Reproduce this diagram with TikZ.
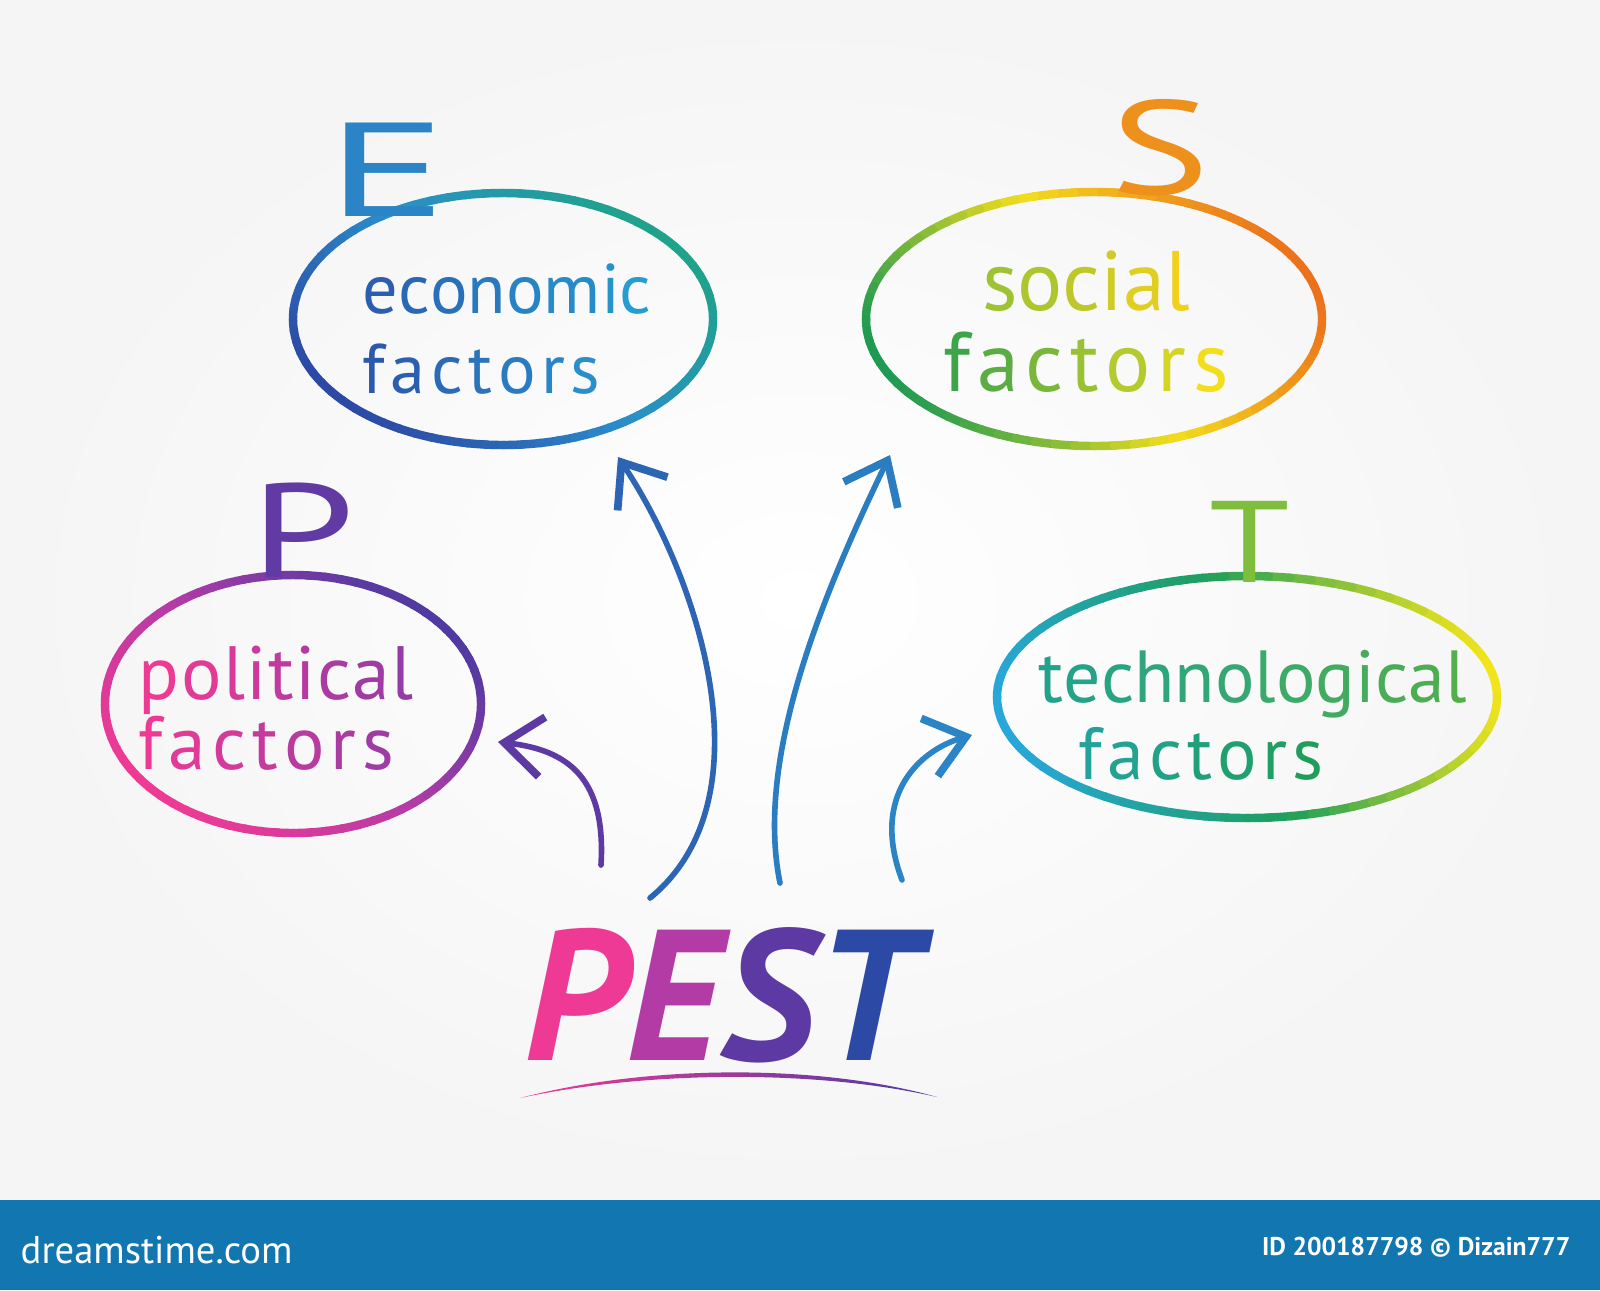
\documentclass[tikz,border=0pt]{standalone}
\usepackage{fontspec}
\setmainfont{PT Sans}
\usetikzlibrary{arrows.meta}

% colours of the rings
\definecolor{ecoDark}{HTML}{2C4AA5}
\definecolor{ecoMid}{HTML}{2A8ECB}
\definecolor{ecoLight}{HTML}{1FA38A}
\definecolor{socGreen}{HTML}{1E9A52}
\definecolor{socYellow}{HTML}{F2DE1C}
\definecolor{socOrange}{HTML}{EC6F1C}
\definecolor{polPink}{HTML}{EE3A95}
\definecolor{polMid}{HTML}{B23BA6}
\definecolor{polPurple}{HTML}{4E3AA2}
\definecolor{tecBlue}{HTML}{27A7DA}
\definecolor{tecGreen}{HTML}{1E9E5A}
\definecolor{tecYellow}{HTML}{F5E61A}
\definecolor{bannerBlue}{HTML}{1277B0}

% ring drawn in short arcs: centre, x radius, y radius, angle of last colour, three colours
\newcommand{\gradring}[7]{%
  \foreach \a in {0,5,...,355}{%
    \pgfmathtruncatemacro\segt{50+50*cos(\a+2.5-#4)}%
    \ifnum\segt<50
      \pgfmathtruncatemacro\segu{2*\segt}%
      \colorlet{segcol}{#6!\segu!#5}%
    \else
      \pgfmathtruncatemacro\segu{2*\segt-100}%
      \colorlet{segcol}{#7!\segu!#6}%
    \fi
    \draw[ring, segcol, shift={(#1)}] (\a:#2 and #3) arc[start angle=\a, end angle=\a+5.5, x radius=#2, y radius=#3];
  }%
}

% word coloured letter by letter: [letter gap], first colour, last colour, letters
\newcommand{\gradword}[4][0em]{%
  \foreach \ch [count=\k] in {#4}{\global\let\lastk\k}%
  \foreach \ch [count=\k] in {#4}{%
    \pgfmathtruncatemacro\pct{100*(\k-1)/(\lastk-1)}%
    \ifnum\k>1 \kern#1\fi
    \textcolor{#3!\pct!#2}{\ch}}%
}

\begin{document}
\begin{tikzpicture}[
    ring/.style={line width=2.4pt, line cap=round},
    label/.style={inner sep=0pt, align=left},
    capletter/.style={inner sep=0pt, font=\fontsize{38}{40}\selectfont},
    arrowline/.style={line width=1.6pt, line cap=round,
      -{Straight Barb[length=3.8mm, width=6mm, line width=2.2pt]}}
  ]

    % page and background
    \useasboundingbox (0,0) rectangle (16,-12.9);
    \shade[inner color=white, outer color=black!4] (0,0) rectangle (16,-12.0);
    \fill[bannerBlue] (0,-12.0) rectangle (16,-12.9);

    % centres of the four rings
    \coordinate (eco) at (5.03,-3.19);
    \coordinate (soc) at (10.94,-3.19);
    \coordinate (pol) at (2.93,-7.04);
    \coordinate (tec) at (12.47,-6.97);

    % the rings
    \gradring{eco}{2.10}{1.26}{35}{ecoDark}{ecoMid}{ecoLight}
    \gradring{soc}{2.28}{1.27}{20}{socGreen}{socYellow}{socOrange}
    \gradring{pol}{1.88}{1.29}{40}{polPink}{polMid}{polPurple}
    \gradring{tec}{2.50}{1.21}{10}{tecBlue}{tecGreen}{tecYellow}

    % big letters sitting on the rings
    \node[capletter, text=ecoMid!85!ecoDark] (letterE) at (3.87,-1.70) {\scalebox{1.7}[1]{E}};
    \node[capletter, text=socOrange!70!socYellow] (letterS) at (11.60,-1.48) {\scalebox{1.4}[1]{S}};
    \node[capletter, text=polPurple!80!polMid] (letterP) at (3.03,-5.30) {\scalebox{1.4}[1]{P}};
    \node[capletter, text=tecYellow!45!tecGreen, font=\fontsize{33}{35}\selectfont] (letterT) at (12.50,-5.42) {\scalebox{1.25}[1]{T}};

    % texts inside the rings
    \node[label, anchor=west, font=\fontsize{20}{23}\selectfont] (ecoText) at (3.62,-3.29)
      {\gradword{ecoDark!70!ecoMid}{ecoMid!80!cyan}{e,c,o,n,o,m,i,c}\\
       \gradword[0.08em]{ecoDark!80!ecoMid}{ecoMid}{f,a,c,t,o,r,s}};
    \node[label, align=center, font=\fontsize{24}{23}\selectfont] (socText) at (10.86,-3.22)
      {\gradword{socGreen!40!socYellow}{socYellow!70!socOrange}{s,o,c,i,a,l}\\
       \gradword[0.08em]{socGreen!85!socYellow}{socYellow}{f,a,c,t,o,r,s}};
    \node[label, anchor=west, font=\fontsize{21.5}{20}\selectfont] (polText) at (1.38,-7.08)
      {\gradword[0.02em]{polPink}{polMid!70!polPurple}{p,o,l,i,t,i,c,a,l}\\
       \gradword[0.08em]{polPink}{polMid!80!polPurple}{f,a,c,t,o,r,s}};
    \node[label, anchor=west, font=\fontsize{21}{22}\selectfont] (tecText) at (10.38,-7.15)
      {\gradword{tecBlue!40!tecGreen}{tecYellow!60!tecGreen}{t,e,c,h,n,o,l,o,g,i,c,a,l}\\
       \hspace{0.4cm}\gradword[0.07em]{tecBlue!50!tecGreen}{tecGreen}{f,a,c,t,o,r,s}};

    % title
    \node[inner sep=0pt, anchor=base, font=\bfseries\itshape\fontsize{53}{55}\selectfont] (title) at (7.21,-10.60)
      {\textcolor{polPink}{P}\textcolor{polMid}{E}\textcolor{polPurple!85!polMid}{S}\textcolor{ecoDark}{T}};
    \coordinate (ulLeft) at (5.20,-10.98);
    \coordinate (ulRight) at (9.37,-10.97);
    \shade[left color=polPink, right color=polPurple] (ulLeft) .. controls (6.50,-10.64) and (8.20,-10.64) .. (ulRight)
      .. controls (8.20,-10.70) and (6.50,-10.70) .. (ulLeft) -- cycle;

    % arrows from the title to the rings
    \coordinate (polFrom) at (6.01,-8.65);
    \coordinate (polTo) at (4.98,-7.42);
    \coordinate (ecoFrom) at (6.50,-8.98);
    \coordinate (ecoTo) at (6.18,-4.57);
    \coordinate (socFrom) at (7.80,-8.83);
    \coordinate (socTo) at (8.90,-4.55);
    \coordinate (tecFrom) at (9.02,-8.80);
    \coordinate (tecTo) at (9.72,-7.35);
    \draw[arrowline, polPurple!85!polMid] (polFrom) .. controls (6.06,-7.80) and (5.70,-7.50) .. (polTo);
    \draw[arrowline, ecoDark!60!ecoMid] (ecoFrom) .. controls (7.70,-8.00) and (7.00,-5.80) .. (ecoTo);
    \draw[arrowline, ecoMid!75!ecoDark] (socFrom) .. controls (7.55,-7.60) and (8.20,-6.00) .. (socTo);
    \draw[arrowline, ecoMid!85!ecoDark] (tecFrom) .. controls (8.70,-7.95) and (9.20,-7.50) .. (tecTo);

    % banner texts
    \node[inner sep=0pt, anchor=west, text=white, font=\fontsize{11}{13}\selectfont] (siteName) at (0.20,-12.50) {dreamstime.com};
    \node[inner sep=0pt, anchor=east, text=white, font=\bfseries\fontsize{7.3}{9}\selectfont] (imageId) at (15.71,-12.47) {ID 200187798 © Dizain777};

\end{tikzpicture}
\end{document}
